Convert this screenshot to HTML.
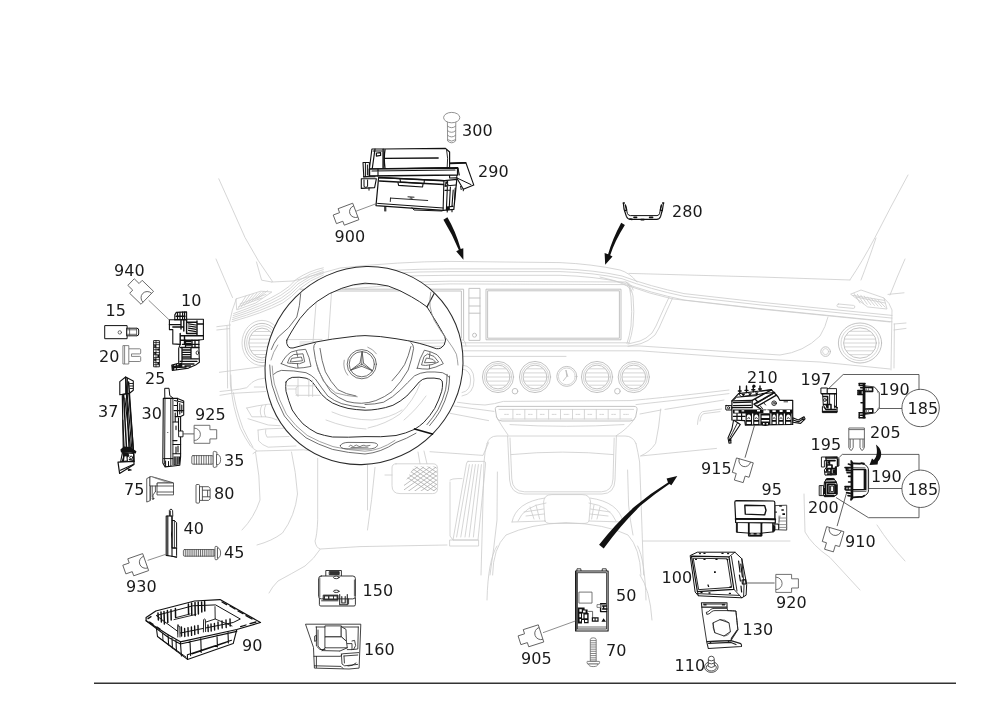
<!DOCTYPE html>
<html lang="en">
<head>
<meta charset="utf-8">
<title>Parts diagram</title>
<style>
html,body{margin:0;padding:0;background:#fff;}
body{width:1000px;height:710px;overflow:hidden;font-family:"DejaVu Sans","Liberation Sans",sans-serif;}
svg{display:block;position:absolute;left:0;top:0;}
.bg{fill:none;stroke:#cbcbcb;stroke-width:0.8;stroke-linecap:round;stroke-linejoin:round;}
.bg2{fill:none;stroke:#bcbcbc;stroke-width:0.9;stroke-linecap:round;stroke-linejoin:round;}
.wh{fill:none;stroke:#2b2b2b;stroke-width:1;stroke-linecap:round;stroke-linejoin:round;}
.wh2{fill:none;stroke:#8a8a8a;stroke-width:0.8;stroke-linecap:round;stroke-linejoin:round;}
.wh3{fill:none;stroke:#4a4a4a;stroke-width:0.8;stroke-linecap:round;stroke-linejoin:round;}
.p{fill:none;stroke:#111;stroke-width:1;stroke-linecap:round;stroke-linejoin:round;}
.pw{fill:#fff;stroke:#111;stroke-width:1;stroke-linecap:round;stroke-linejoin:round;}
.pt{fill:none;stroke:#484848;stroke-width:0.8;stroke-linecap:round;stroke-linejoin:round;}
.ptw{fill:#fff;stroke:#484848;stroke-width:0.8;stroke-linecap:round;stroke-linejoin:round;}
.pb{fill:none;stroke:#000;stroke-width:1.5;stroke-linecap:round;stroke-linejoin:round;}
.k{fill:#111;stroke:none;}
.ld{fill:none;stroke:#454545;stroke-width:0.85;}
.ld2{fill:none;stroke:#6a6a6a;stroke-width:0.75;}
.cn{fill:#fff;stroke:#5a5a5a;stroke-width:0.85;stroke-linejoin:miter;}
.cn2{fill:none;stroke:#5a5a5a;stroke-width:0.85;}
#labels{filter:grayscale(1);}
text{font-family:"DejaVu Sans","Liberation Sans",sans-serif;font-size:16px;fill:#1a1a1a;letter-spacing:0.1px;}
</style>
</head>
<body>
<svg width="1000" height="710" viewBox="0 0 1000 710">
<g id="bg">
<path class="bg" d="M218.8 178.8 Q232 208 245 237.5 Q258 262 272.5 281.5"/>
<path class="bg" d="M216 259 Q224 278 232.5 297.5"/>
<path class="bg" d="M256.5 262 L261.6 280.2 L271.8 282"/>
<path class="bg" d="M908 175 Q890 208 875 237.5 Q862 262 850 279.8"/>
<path class="bg" d="M905 259 Q897 277 890 295"/>
<path class="bg" d="M876 238 Q868 262 861 280"/>
<path class="bg" d="M888 294.4 L904 292.8"/>
<path class="bg" d="M271.8 282 L293 281 Q315 275 340 268 Q400 261.5 450 261.4 L560 262.6 Q592 264 620 270 Q630 273 637 282"/>
<path class="bg" d="M629 273.4 L760 277 L850 280"/>
<path class="bg" d="M330 275 Q390 268.9 450 268.9 L560 268.9 Q595 270 622 276 Q650 286.5 684 293.6 L760 302.2 L892 315.4"/>
<path class="bg" d="M330 277.7 Q390 271.59999999999997 450 271.59999999999997 L560 271.59999999999997 Q595 272.7 622 278.7 Q650 289.2 684 296.3 L760 304.9 L892 318.09999999999997"/>
<path class="bg" d="M330 281.4 Q390 275.29999999999995 450 275.29999999999995 L560 275.29999999999995 Q595 276.4 622 282.4 Q650 292.9 684 300.0 L760 308.59999999999997 L892 321.79999999999995"/>
<path class="bg" d="M340 286 Q395 281.2 450 281.2 L626 282 Q631.6 284 633.2 290"/>
<path class="bg" d="M345 289 Q398 283.9 450 283.9 L624 284.6 Q629.6 286.4 631.2 292"/>
<path class="bg" d="M600 277 Q615 280 626 285 Q650 294 672 298.8 L760 309 L890 322"/>
<path class="bg" d="M232.0 321.6 Q262 313.4 282.7 303.0 Q292.0 297.0 299.6 288.7 Q310 280.0 323.3 275.0"/>
<path class="bg" d="M232.4 319.6 Q262 311.0 282.09999999999997 300.4 Q291.6 294.4 298.8 286.3 Q310 277.6 323.3 273.2"/>
<path class="bg" d="M232.8 317.6 Q262 308.59999999999997 281.5 297.8 Q291.2 291.8 298.0 283.9 Q310 275.2 323.3 271.4"/>
<path class="bg" d="M233.2 315.6 Q262 306.2 280.9 295.2 Q290.8 289.2 297.20000000000005 281.5 Q310 272.8 323.3 269.6"/>
<path class="bg" d="M233.6 313.6 Q262 303.79999999999995 280.3 292.6 Q290.4 286.6 296.40000000000003 279.09999999999997 Q310 270.4 323.3 267.8"/>
<path class="bg" d="M236.3 298.8 L260.8 291.2 L271.8 292 L255.7 303 L237.1 309.8 Z"/>
<path class="bg" d="M238.0 308.6 L246.0 296.0"/>
<path class="bg" d="M241.2 307.0 L249.6 295.1"/>
<path class="bg" d="M244.4 305.40000000000003 L253.2 294.2"/>
<path class="bg" d="M247.6 303.8 L256.8 293.3"/>
<path class="bg" d="M250.8 302.20000000000005 L260.4 292.4"/>
<path class="bg" d="M254.0 300.6 L264.0 291.5"/>
<path class="bg" d="M257.2 299.0 L267.6 290.6"/>
<path class="bg" d="M240 304 L266 294.4 M238.6 306.6 L262 298"/>
<path class="bg" d="M236.3 298.8 Q231.6 310 229.6 322.5 L230.4 385 Q231 391 232 391.4"/>
<path class="bg" d="M227 326 L227.6 388"/>
<path class="bg" d="M216.8 326.7 L230.4 325 M216.8 330 L229.6 328.6 M219.4 372.3 L264 366.4"/>
<path class="bg" d="M851 294 L861 290 L884 298 L887 309 L868 307 Z"/>
<path class="bg" d="M854.0 293.4 L860.0 303.0"/>
<path class="bg" d="M857.4 294.29999999999995 L863.6 303.6"/>
<path class="bg" d="M860.8 295.2 L867.2 304.2"/>
<path class="bg" d="M864.2 296.09999999999997 L870.8 304.8"/>
<path class="bg" d="M867.6 297.0 L874.4 305.4"/>
<path class="bg" d="M871.0 297.9 L878.0 306.0"/>
<path class="bg" d="M874.4 298.79999999999995 L881.6 306.6"/>
<path class="bg" d="M877.8 299.7 L885.2 307.2"/>
<path class="bg" d="M856 297 L885 303 M853 295.4 L884.4 300.4"/>
<path class="bg" d="M884 298 Q890 303 892 310 L891 370 M894.4 324 L894 368 M894 324 L906 323 M894 330 L906 328.4"/>
<path class="bg" d="M838.6 304 L853.6 305.4 Q855 305.6 854.8 307 Q854.6 308.6 853.2 308.4 L838.2 307 Q836.8 306.8 837 305.4 Q837.2 303.8 838.6 304 Z"/>
<path class="bg2" d="M486.4 289.2 L621 289.2 L621 339.8 L486.4 339.8 Z"/>
<path class="bg2" d="M488 290.8 L619.4 290.8 L619.4 338.2 L488 338.2 Z"/>
<path class="bg2" d="M469.3 288.4 L480 288.4 L480 340.4 L469.3 340.4 Z"/>
<path class="bg2" d="M469.3 298 L480 298 M469.3 306 L480 306 M469.3 313.2 L480 313.2"/>
<circle class="bg2" cx="474.5" cy="335.2" r="2"/>
<path class="bg2" d="M300 289.2 L463.6 289.2 L463.6 340"/>
<path class="bg" d="M463.6 340 L300 342"/>
<path class="bg2" d="M302 291 L461.4 291 L461.4 338"/>
<path class="bg" d="M288 339.6 L322 339.4"/>
<path class="bg" d="M317 291 L313 342 M331.6 291 L328 344"/>
<path class="bg" d="M626 282 Q631 286 633 296 Q634.6 312 633 326 Q631.6 336 629 343"/>
<path class="bg" d="M628.6 284 Q629.6 288 631 297 Q632.4 312 631 326 Q629.6 336 627 343.4"/>
<path class="bg" d="M669 297.4 Q664 308 660 317 Q656 327 652 333 Q646 339 640 341 L628 344"/>
<path class="bg" d="M672.4 298.4 Q667 310 663 319 Q659 329 655 335 Q648 341.6 641 343.6 L628 346.4"/>
<path class="bg" d="M300 344 L460 342.8 L629 342.8"/>
<path class="bg" d="M296 348 L460 346 L640 346 L740 352.4 L780 355 Q804 352 820 336 Q825.6 327 828 317"/>
<path class="bg" d="M292 353 L460 350.8 L640 350.8 L740 358 L820 362 L890 369"/>
<path class="bg" d="M290 358 L460 356.4 L566 356.4"/>
<path class="bg" d="M463.6 340 Q466 342 466 346"/>
<ellipse class="bg2" cx="498" cy="377" rx="15.6" ry="15.6"/>
<ellipse class="bg" cx="498" cy="377" rx="13.7" ry="13.7"/>
<ellipse class="bg2" cx="498" cy="377" rx="11.9" ry="11.9"/>
<path class="bg" d="M489.9 368.8 L506.1 368.8 M487.2 372.9 L508.8 372.9 M486.5 377.0 L509.5 377.0 M487.2 381.1 L508.8 381.1 M489.9 385.2 L506.1 385.2 "/>
<ellipse class="bg2" cx="535" cy="377" rx="15.6" ry="15.6"/>
<ellipse class="bg" cx="535" cy="377" rx="13.7" ry="13.7"/>
<ellipse class="bg2" cx="535" cy="377" rx="11.9" ry="11.9"/>
<path class="bg" d="M526.9 368.8 L543.1 368.8 M524.2 372.9 L545.8 372.9 M523.5 377.0 L546.5 377.0 M524.2 381.1 L545.8 381.1 M526.9 385.2 L543.1 385.2 "/>
<ellipse class="bg2" cx="597" cy="377" rx="15.6" ry="15.6"/>
<ellipse class="bg" cx="597" cy="377" rx="13.7" ry="13.7"/>
<ellipse class="bg2" cx="597" cy="377" rx="11.9" ry="11.9"/>
<path class="bg" d="M588.9 368.8 L605.1 368.8 M586.2 372.9 L607.8 372.9 M585.5 377.0 L608.5 377.0 M586.2 381.1 L607.8 381.1 M588.9 385.2 L605.1 385.2 "/>
<ellipse class="bg2" cx="633.8" cy="377" rx="15.6" ry="15.6"/>
<ellipse class="bg" cx="633.8" cy="377" rx="13.7" ry="13.7"/>
<ellipse class="bg2" cx="633.8" cy="377" rx="11.9" ry="11.9"/>
<path class="bg" d="M625.7 368.8 L641.9 368.8 M623.0 372.9 L644.6 372.9 M622.3 377.0 L645.3 377.0 M623.0 381.1 L644.6 381.1 M625.7 385.2 L641.9 385.2 "/>
<ellipse class="bg2" cx="860" cy="343" rx="21.6" ry="20"/>
<ellipse class="bg" cx="860" cy="343" rx="19.0" ry="17.6"/>
<ellipse class="bg2" cx="860" cy="343" rx="16.4" ry="15.2"/>
<path class="bg" d="M850.2 331.3 L869.8 331.3 M846.4 335.2 L873.6 335.2 M844.6 339.1 L875.4 339.1 M844.0 343.0 L876.0 343.0 M844.6 346.9 L875.4 346.9 M846.4 350.8 L873.6 350.8 M850.2 354.7 L869.8 354.7 "/>
<ellipse class="bg2" cx="262" cy="343" rx="17.4" ry="19.6"/>
<ellipse class="bg" cx="262" cy="343" rx="15.3" ry="17.2"/>
<ellipse class="bg2" cx="262" cy="343" rx="13.2" ry="14.9"/>
<path class="bg" d="M254.1 331.5 L269.9 331.5 M251.1 335.4 L272.9 335.4 M249.6 339.2 L274.4 339.2 M249.1 343.0 L274.9 343.0 M249.6 346.8 L274.4 346.8 M251.1 350.6 L272.9 350.6 M254.1 354.5 L269.9 354.5 "/>
<ellipse class="bg" cx="262" cy="343" rx="20" ry="22.6"/>
<circle class="bg2" cx="566.8" cy="376.4" r="10"/><circle class="bg" cx="566.8" cy="376.4" r="8.4"/>
<path class="bg2" d="M566.8 376.4 L566 370.4 M566.8 376.4 L563.4 380.6 M566 370.4 L567.8 376.4"/>
<circle class="bg2" cx="515" cy="391.2" r="2.8"/><circle class="bg2" cx="617.4" cy="391.2" r="2.8"/>
<circle class="bg2" cx="825.6" cy="351.6" r="4.8"/><circle class="bg" cx="825.6" cy="351.6" r="3"/>
<path class="bg" d="M462 365 Q474 366 474 380 Q474 394 462 396 M462 369 Q470.6 370 470.6 380 Q470.6 391 462 392.6"/>
<path class="bg" d="M457.5 402.3 Q472 404.6 485 405 Q495 404 503.3 401.4 L630 400.6 Q660 398 700 393.4 L729 390"/>
<path class="bg" d="M453.8 406 L494 411.4"/>
<path class="bg" d="M636 404.6 Q680 400 729 393.6"/>
<path class="bg" d="M450 413.3 L488.6 420.6 M640 414 L661 410 M665 409.4 L724 400 M430 451.7 L483 455.4 L488.6 442.6"/>
<path class="bg2" d="M498 406.4 L634 406.4 Q637.6 406.4 637 410 L635.6 417 Q634.6 421 630 421 L502 421 Q497.6 421 496.6 417 L495.4 410 Q494.8 406.4 498 406.4 Z"/>
<path class="bg" d="M499 409.4 L633.6 409.4 M500.6 419 L631.6 419"/>
<path class="bg" d="M512.9 409.4 L512.9 419 M524.8 409.4 L524.8 419 M536.7 409.4 L536.7 419 M548.6 409.4 L548.6 419 M560.5 409.4 L560.5 419 M572.5 409.4 L572.5 419 M584.4 409.4 L584.4 419 M596.3 409.4 L596.3 419 M608.2 409.4 L608.2 419 M620.1 409.4 L620.1 419 "/>
<path class="bg" d="M504.6 414.4 L509.4 414.4 M516.5 414.4 L521.3 414.4 M528.4 414.4 L533.2 414.4 M540.3 414.4 L545.1 414.4 M552.2 414.4 L557.0 414.4 M564.1 414.4 L568.9 414.4 M576.0 414.4 L580.8 414.4 M587.9 414.4 L592.7 414.4 M599.8 414.4 L604.6 414.4 M611.7 414.4 L616.5 414.4 M623.6 414.4 L628.4 414.4 " style="stroke-dasharray:1.4 1"/>
<path class="bg" d="M496.4 417 Q503 428 508 435 M635.6 417 Q629 428 616.4 435.6"/>
<path class="bg" d="M510 424.6 Q566 428 624 424.6"/>
<path class="bg" d="M487 443.6 Q489 436 497 436 L625 436 Q633 436 636 443.6"/>
<path class="bg" d="M507.6 436 L509.6 480 Q510.6 493.6 524 494 L602 494 Q614.6 493.6 615 480 L616.4 436"/>
<path class="bg" d="M510 438 L511.8 479 Q512.6 491.4 524.6 491.8 L601.4 491.8 Q612.4 491.4 613 479 L614.2 438"/>
<path class="bg" d="M511 454.6 Q563 449.6 613.4 454.6"/>
<path class="bg" d="M487 443.6 Q484.6 452 484 462 L483 500 Q482 540 481 575"/>
<path class="bg" d="M497.4 472 L497 520 Q494 548 490 575"/>
<path class="bg" d="M636 443.6 Q638 452 639.6 462 L641 500 Q642.4 540 643.6 575"/>
<path class="bg" d="M627.6 470 L628.6 505 Q630 520 633 535"/>
<path class="bg" d="M512 522 Q516 502 545 498 M590 498 Q619 502 623 522"/>
<path class="bg" d="M518 521 Q524 506 546 503 M589 503 Q610 506 616 521"/>
<path class="bg" d="M545 521 L543.6 502 Q544 494.6 552 494.6 L582 494.6 Q590 494.6 590.6 502 L589 521 Q588 523.4 585 523.4 L549 523.4 Q546 523.4 545 521 Z"/>
<path class="bg" d="M512 522 L545 521 M589 521 L623 522 M524 512 L543.6 509 M526 516 L544 514 M590.6 509 L610 512 M590 514 L608 516"/>
<path class="bg" d="M530 507 L534 519 M536 505 L539.6 519 M600 507 L597 519 M594 505 L591.6 519"/>
<path class="bg" d="M492.6 575 Q493 548 506 535 Q530 524 566 522.6 Q606 524 628 535 Q640 548 641 575"/>
<path class="bg" d="M487 600 Q488 560 497 546 M646 600 Q645 560 637.6 546"/>
<path class="bg" d="M660.7 409 Q659 428 655.6 443.4 Q650 452 640.4 456 L716.5 448.4"/>
<path class="bg" d="M697.5 424.4 Q698 414 702.5 411.7 L721.5 409 M700 421 Q700.6 414.6 704 413.6 L720 411.6"/>
<path class="bg" d="M643 541 L790 541"/>
<path class="bg" d="M804 494 L805 532 Q812 545 830 557.5 L860 590"/>
<path class="bg" d="M877 525 Q890 545 905 561"/>
<path class="bg" d="M396 463.8 L433 463.8 Q437.6 463.8 437.6 468.4 L437.6 488.4 Q437.6 493.6 432.6 493.6 L400 493.6 Q392 493.6 392 485.6 L392 468 Q392 463.8 396 463.8 Z"/>
<clipPath id="brk"><path d="M414 466.4 L436.8 466.4 L436.8 491 L404 491 L404 484 Z"/></clipPath>
<path class="bg2" clip-path="url(#brk)" style="stroke:#a4a4a4;stroke-width:0.7" d="M379.6 494 L417.6 467 M383.6 462 L429.6 492 M385.8 494 L423.8 467 M389.8 462 L435.8 492 M392.0 494 L430.0 467 M396.0 462 L442.0 492 M398.2 494 L436.2 467 M402.2 462 L448.2 492 M404.4 494 L442.4 467 M408.4 462 L454.4 492 M410.6 494 L448.6 467 M414.6 462 L460.6 492 M416.8 494 L454.8 467 M420.8 462 L466.8 492 M423.0 494 L461.0 467 M427.0 462 L473.0 492 M429.2 494 L467.2 467 M433.2 462 L479.2 492 M435.4 494 L473.4 467 M439.4 462 L485.4 492 M441.6 494 L479.6 467 M445.6 462 L491.6 492 M447.8 494 L485.8 467 M451.8 462 L497.8 492 "/>
<path class="bg" d="M385 475 L392 475 M418 452 L420 463.8 M424 451 L427 463.8"/>
<path class="bg" d="M468 461.4 L484 461.4 Q486 461.4 485.6 464 L478 540 L453 540 L466.4 464 Q466.8 461.4 468 461.4 Z"/>
<path class="bg" d="M469.4 464.6 L456.6 537"/>
<path class="bg" d="M472.4 464.6 L460.8 537"/>
<path class="bg" d="M475.4 464.6 L465.0 537"/>
<path class="bg" d="M478.4 464.6 L469.20000000000005 537"/>
<path class="bg" d="M481.4 464.6 L473.40000000000003 537"/>
<path class="bg" d="M450 540 L478.6 540 L478.6 546 L450 546 Z"/>
<path class="bg" d="M450 480 Q452 478.6 458 478.6 L462 478.6 M450 482 L450 536 L453 540"/>
<path class="bg" d="M317.7 458.3 L317.7 519.8 Q317 536 315 541 Q316 548 320.4 549 L360 546.6 L447 545"/>
<path class="bg" d="M367.5 465 L367.5 510 M375 467.5 Q372 500 367.5 530"/>
<path class="bg" d="M230.8 375 L231.5 391.5 Q232.4 399 234 406.7 Q236.6 418 240.3 428.2 Q245 438 250.5 446 Q253.6 449 256.8 451"/>
<path class="bg" d="M233.4 392.7 Q234.6 400 236.5 408 Q239.2 418 242.9 428.2 Q247.4 438 253 447.2"/>
<path class="bg" d="M220 391.5 L231.5 390.2 Q240 389.4 246.7 387.7 Q249.6 385 251.8 382.6 Q254.6 380.6 258 379.4 L264.4 378.2"/>
<path class="bg" d="M220 395.3 L231.5 393.4 L265.7 391.5 M254.3 387 L264.4 387"/>
<path class="bg" d="M246.7 408 Q257 405.6 268.2 404.2 Q274 404 278 406 M246.7 408 L251.8 416.8 L265.7 416.8 Q272 417.4 277 420"/>
<path class="bg" d="M262 405.2 Q258.6 411 261.6 416.8 M266 404.6 Q262.6 411 265.6 416.8"/>
<path class="bg" d="M248 418.7 L268.2 425 L280 425.7"/>
<path class="bg" d="M258 430.1 L265.7 428.9 L284 428.2 M265.7 429.5 Q264.6 433.6 267 437.1 L289 436.5"/>
<path class="bg" d="M258 430.1 L258.7 440.9 Q262 445 268.2 447.2 L296 446"/>
<path class="bg" d="M253 453.6 L256.8 451 L303.7 449.8 L318 452"/>
<path class="bg" d="M255.5 452 Q260 476 260 500 Q254 518 242 530"/>
<path class="bg" d="M291.5 452 Q296 472 297.5 494 Q295 516 282.5 533 Q272 541 257 545"/>
<path class="bg" d="M320 549.5 Q314 559 305 566 Q291 574 278 581 Q272 587 269 593"/>
<path class="bg" d="M640 575 Q650 590 652 620"/>
</g>
<g id="wheel">
<path d="M435.56 294.04 A101.2 96.8 -45 1 0 292.44 437.16 A101.2 96.8 -45 1 0 435.56 294.04 Z M286.8 340.2 Q290.6 332.5 300 318.5 Q308 308 317 301.5 Q329 292.6 341.8 288.3 Q353 284 365 283.2 Q377 283.6 388.2 286 Q400 290 411.5 296.8 Q420 301.6 427 306.9 Q430 311.6 433.2 317 Q438 324.6 442.5 332.5 Q445.4 336.4 445.6 340.2 Q445 346 440.9 348 Q438.6 349 436.3 348.7 Q428 345.6 419.2 343.3 Q408 340.4 396 338.7 Q380 336 365 335.6 Q356 335.8 348 337.1 Q332 338.8 317 341.8 Q305 344.6 293 348 Q289.6 348.6 288 346.4 Q286 343.6 286.8 340.2 Z M286 382 Q287.6 378.4 292.2 377.4 Q299 376.6 306.1 378.2 Q310 379.4 312.3 382 Q317 388 321.6 394.4 Q326.4 399.6 332.5 403 Q340 406.6 348 408.4 Q356 409.8 365 410.2 Q371 410.2 377.4 409.2 Q385.6 408 392.9 405.3 Q400.4 401.6 406.8 396 Q413.4 389 419.2 382 Q422.4 378.6 427 378.2 Q434.6 377.6 440 379 Q443 380.4 442.5 384 Q442.6 387.6 441.7 391.3 Q439 400 434.7 408.4 Q430 416 423.9 422.3 Q419.6 426.2 414.6 429.3 Q406 433.4 396 435.5 Q381 437.4 365 436.6 Q348 437.6 332.5 437 Q324 435.6 317 433.2 Q309.6 429.4 303 423.9 Q297 417.6 292.2 410 Q288.4 400.6 286 391.3 Q285.4 386.6 286 382 Z" fill="#fff" fill-rule="evenodd" stroke="none"/>
<path class="wh" d="M435.56 294.04 A101.2 96.8 -45 1 0 292.44 437.16 A101.2 96.8 -45 1 0 435.56 294.04 Z" style="stroke-width:1.05"/>
<path class="wh" d="M286.8 340.2 Q290.6 332.5 300 318.5 Q308 308 317 301.5 Q329 292.6 341.8 288.3 Q353 284 365 283.2 Q377 283.6 388.2 286 Q400 290 411.5 296.8 Q420 301.6 427 306.9 Q430 311.6 433.2 317 Q438 324.6 442.5 332.5 Q445.4 336.4 445.6 340.2 Q445 346 440.9 348 Q438.6 349 436.3 348.7 Q428 345.6 419.2 343.3 Q408 340.4 396 338.7 Q380 336 365 335.6 Q356 335.8 348 337.1 Q332 338.8 317 341.8 Q305 344.6 293 348 Q289.6 348.6 288 346.4 Q286 343.6 286.8 340.2 Z" style="stroke-width:1"/>
<path class="wh" d="M286 382 Q287.6 378.4 292.2 377.4 Q299 376.6 306.1 378.2 Q310 379.4 312.3 382 Q317 388 321.6 394.4 Q326.4 399.6 332.5 403 Q340 406.6 348 408.4 Q356 409.8 365 410.2 Q371 410.2 377.4 409.2 Q385.6 408 392.9 405.3 Q400.4 401.6 406.8 396 Q413.4 389 419.2 382 Q422.4 378.6 427 378.2 Q434.6 377.6 440 379 Q443 380.4 442.5 384 Q442.6 387.6 441.7 391.3 Q439 400 434.7 408.4 Q430 416 423.9 422.3 Q419.6 426.2 414.6 429.3 Q406 433.4 396 435.5 Q381 437.4 365 436.6 Q348 437.6 332.5 437 Q324 435.6 317 433.2 Q309.6 429.4 303 423.9 Q297 417.6 292.2 410 Q288.4 400.6 286 391.3 Q285.4 386.6 286 382 Z" style="stroke-width:1"/>
<path class="wh" style="stroke-width:1.2" d="M427 306.9 L434 293.7"/>
<path class="wh" style="stroke-width:1.8;stroke:#111" d="M414.6 429 L432.4 434"/>
<path class="wh3" d="M300.7 293.7 Q300 306 296.8 317 Q290 328 278.2 337.1 Q273.6 343 271.3 349.5"/>
<path class="wh2" d="M430.8 292.2 Q429.4 300 430 306 Q431.4 313.6 434 320 Q440.6 331.6 448.7 341.8 Q453.4 348 456.4 354.2 Q457.6 359.6 458 365"/>
<path class="wh2" d="M277.8 345 Q273 352 271 360"/>
<path class="wh3" d="M269.7 365 Q270 375 272 385 Q276.6 401.6 284.4 416 Q293.6 428.6 306 437.8 Q318 444.6 332.5 449.4 Q348 453 365 454 Q381 452.6 396 442.5 Q407 438.6 416 433.2"/>
<path class="wh2" d="M272.2 366 Q272.6 375 274.4 384 Q279 400.4 286.4 414.2 Q295.2 426.4 307.2 435.4 Q319 442 333 446.6 Q348 450.2 365 451.2 Q380 450.6 395 440.4"/>
<path class="wh3" d="M447.1 374.3 Q447 382 445.6 389.8 Q443 400 437.8 409.9 Q433 417.6 427 424.6 M449.6 376 Q449.6 383 448.2 390.6 Q445.4 401 440.2 411 Q435.6 418.6 429.6 425.6"/>
<path class="wh3" d="M273.6 374.3 Q276.6 371.4 281.3 370.4 Q294 370.4 306 372.7 Q311.6 375 315.4 379 Q321.6 388 327.8 396 Q334 401 341.8 403.7 Q352 406.6 365 407.6"/>
<path class="wh3" d="M365 404.5 Q375 404.4 383.6 402.2 Q393 397.4 400.6 389.8 Q407.6 382.6 414.6 375.8 Q420 372.6 427 372 Q435 371.6 442.5 372.7 Q446.6 374.4 449.4 377.4"/>
<path class="wh3" d="M315.5 343 Q313.4 345 313.7 348.4 Q315 360 318.2 370 Q323.6 382 330.8 391.6 Q338 398 347 401.5 Q354 403.2 361.4 403.3 Q369 403 375.8 400.6 Q385 397 392 391.6 Q401.6 381.6 408.2 370 Q412 359 413.6 348.4 Q413.6 344.6 411 342.6"/>
<path class="wh3" d="M320 348.4 Q321.6 361 325.4 371.8 Q330.6 382 338 389.8 Q346 394.4 356 396"/>
<path class="wh3" d="M410.9 346.6 Q408.6 356 404.6 364.6 Q399 373.4 392 380.8"/>
<path class="wh2" d="M317 365 Q319.6 373 323 380.5 Q328.6 387.6 335.6 392.9 Q346 396 357.3 396.8"/>
<circle class="wh3" cx="361.8" cy="364.2" r="14.6"/><circle class="wh3" cx="361.8" cy="364.2" r="12.6"/>
<path class="wh2" d="M344.2 360.2 A18 18 0 0 0 347.8 375.2 M367.8 347.2 A18 18 0 0 1 376.40000000000003 353.8"/>
<path class="wh3" d="M360.0 363.1 L362.1 351.6 L363.6 363.2 M361.8 364.2 L362.1 351.6 M363.6 363.2 L372.5 370.8 L361.7 366.3 M361.8 364.2 L372.5 370.8 M361.7 366.3 L350.7 370.2 L360.0 363.1 M361.8 364.2 L350.7 370.2 "/>
<path class="wh3" d="M281.3 363.7 Q285 356 291.2 352 Q298 349.6 305.6 349.3 Q309.6 357 311 366.4 Q304 368 296.6 368.2 Q288 367 281.3 363.7 Z"/>
<path class="wh3" d="M287.6 362.6 L289.6 357.6 L293.6 354.6 L303 353.8 L304.7 361.8 L299.6 363.7 L292 363.4 Z M290.4 361.6 L291.6 358.4 L301.4 357 L302.4 360.4 Z M296.6 351.6 L297.6 356.4 M297.4 363.6 L298 367.6"/>
<path class="wh3" d="M417.2 368.2 Q419.6 358 424.4 350.2 Q431 351.4 437 354.7 Q441 358.6 443.3 363.7 Q436 367.6 428 369.1 Q422 369.2 417.2 368.2 Z"/>
<path class="wh3" d="M421.6 364.6 L424 356.6 L427.6 354 L434 356.4 L438.6 362 L432 364.6 L426 365.4 Z M424.6 362.4 L426.4 358 L433 359.4 L435.4 362 Z M430 352.4 L429.4 357.6 M429.6 365 L429.4 368.8"/>
<path class="wh3" d="M340.4 445.4 Q342 442.6 348 442.4 L372 442.6 Q378.6 443 377.4 445.8 Q375.4 448.8 369 449 L346 448.8 Q339.6 448.4 340.4 445.4 Z"/>
<path class="wh3" style="stroke-width:0.7" d="M349 446.6 Q350.6 443.6 352 446 Q353.4 447.6 355 445.6 Q356.6 444.4 358 446 Q360 447.4 362 445.6 Q364 444.6 366 446 L370 445.4 M351 447.6 L368 447.2"/>
<path class="bg" d="M287 385.8 L316 385.8 M288 389 L296 389 M296 395.3 L320 395.3 M298 378.8 L298 396.5 M308.8 378.8 L308.8 396.5 M312.6 380 L312.6 396.5 M298 386.4 Q296 386.4 296 388.4 L296 393.4 Q296 395.3 298 395.3"/>
<path class="bg" d="M420 384 Q414 400 400 414 Q386 424 368 428 M426 396 Q416 410 404 420"/>
<path class="bg" d="M332 412 Q350 420 372 420 Q390 418 402 410 M326 420 Q346 428 366 429"/>
</g>
<g id="parts_left">
<path class="ld2" d="M148.7 300.3 L169.4 320.1"/>
<g transform="translate(141.6 292.3) rotate(44)"><path class="cn" d="M7.9 -9.0 L-7.9 -9.0 L-7.9 -4.6 L-14.7 -4.6 L-14.7 4.6 L-7.9 4.6 L-7.9 9.0 L7.9 9.0 Z"/><path class="cn2" d="M7.9 -6.2 A6.3 6.2 0 0 0 7.9 6.2"/></g>
<rect class="pw" x="105.1" y="325.6" width="22" height="13.1"/>
<circle class="pt" cx="119.8" cy="332.4" r="1.7"/>
<path class="pw" d="M127.1 328.2 L136.6 328.2 Q138.7 328.2 138.7 330 L138.7 334 Q138.7 335.8 136.6 335.8 L127.1 335.8 Z"/>
<path class="pt" d="M127.1 329.8 L136.5 329.8 M127.1 334.3 L136.5 334.3 M129.6 328.2 L129.6 335.8 M136.6 328.2 L136.6 335.8"/>
<g stroke="#666" stroke-width="0.8" fill="#fff" stroke-linejoin="round">
<path d="M122.9 345.6 L128.8 345.6 L128.8 348.8 L139.8 348.8 Q140.7 348.8 140.7 349.8 L140.7 353 Q140.7 353.9 139.8 353.9 L131.5 353.9 L131.5 356.4 L139.8 356.4 Q140.7 356.4 140.7 357.4 L140.7 360.6 Q140.7 361.5 139.8 361.5 L128.8 361.5 L128.8 364 L122.9 364 Z"/>
<path fill="none" d="M124.6 345.6 L124.6 364 M128.8 348.8 L128.8 361.5"/>
</g>
<rect class="pw" x="154" y="340.6" width="5.4" height="26.2" style="stroke-width:0.9"/>
<path class="p" d="M154 342.6 L159.4 342.6 M154 344.7 L159.4 344.7 M154 347.6 L159.4 347.6 M154 349.7 L159.4 349.7 M154 352.6 L159.4 352.6 M154 354.7 L159.4 354.7 M154 357.6 L159.4 357.6 M154 359.7 L159.4 359.7 M154 362.6 L159.4 362.6 M154 364.7 L159.4 364.7  M156 340.6 L156 366.8" style="stroke-width:0.8"/>
<path class="k" d="M154.3 345 h1.6 v2.4 h-1.6z M154.3 352 h1.6 v2.4 h-1.6z M154.3 358.6 h1.6 v2.6 h-1.6z M157.4 348.4 h1.6 v2.2 h-1.6z M157.4 355 h1.6 v2.4 h-1.6z M157.4 362 h1.6 v2.4 h-1.6z"/>
<path class="pw" d="M169.4 319.8 L174.8 319.8 L174.8 314.9 L176.3 312.4 L186.6 311.9 L186.6 319.3 L203.4 319.3 L203.4 339.5 L198.9 340 L198.9 347.4 L199.4 362.2 L195.5 365.1 L188.6 368.1 L172.3 370.5 L171.8 365.1 L178.7 363.2 L178.7 348.4 L180.2 344.4 L172.8 343.9 L172.8 329.6 L169.4 329.6 Z" style="stroke-width:1.1"/>
<path class="p" d="M169.4 324.6 L181 324.6 M172.8 327 L183 327 M174.8 319.8 L186.6 319.8 M176 316.2 L185 316.2 M181 319.8 L181 329 M183.8 319.8 L183.8 331 M186.6 319.3 L186.6 333.5 M186.6 322.3 L197 322.3 M186.6 333.5 L197 333.5 M197 321 L197 334.5 M197 324 L203.4 324 M180.2 335.8 L203.4 335.8 M180.2 333.5 L180.2 344.4 M184.5 335.8 L184.5 344 M180.2 340.2 L198.9 340.2 M182.5 344.4 L198.9 344.4" style="stroke-width:1.4"/>
<path class="p" d="M188.5 323.8 L196 325 M188.5 326 L196 327.2 M188.5 328.2 L196 329.4 M188.5 330.4 L196 331.6" style="stroke-width:1.2"/>
<path class="p" d="M180.5 347.5 L198.9 347.5 M182 347.5 L182 362 M185.5 340.2 L185.5 347.5 M192 340.2 L192 347.5 M195 340.5 L195 347.2 M183 350 L191 350 M183 352.3 L191 352.3 M183 354.6 L191 354.6 M183 357 L191 357 M191 348.5 L191 358.6 M183 358.8 L198.5 358.8 M180 361.3 L197 361.3 M180.5 364 L194 364 M185 366 L190.5 366 M174 366.3 L181 365.5 M176.5 364.5 L176.5 369.4 M173 367.6 L186 367" style="stroke-width:1.3"/>
<path class="p" d="M186 341.5 L191 341.5 M186 343.3 L191 343.3 M186 345.2 L191 345.2 M177.5 312.5 L177.5 319 M180 312.3 L180 319 M182.6 312.2 L182.6 319 M184.6 312.2 L184.6 319" style="stroke-width:1.2"/>
<ellipse class="pw" cx="197.4" cy="352.8" rx="1.3" ry="1.8" style="stroke-width:0.8"/>
<path class="k" d="M178.2 363.4 L182 362.6 L182.4 366.8 L178.6 367.4 Z M171.9 365.4 L174 365 L174.4 369.8 L172.3 370.2Z"/>
<path class="pw" d="M119.8 381.6 L125.6 377 L133.3 380.9 L133.3 390.2 L129.5 393.3 L119.8 394.8 Z" style="stroke-width:1.1"/>
<path class="p" d="M125.6 377 L125.6 393.8 M127.5 378.2 L127.5 393.6 M129.6 383.5 L132.8 383.5 M129.6 386 L132.8 386 M130 388.5 L132.8 388.5" style="stroke-width:0.9"/>
<path class="pw" d="M122.3 394.6 L129 393.4 L133.5 450.6 L123.3 449.5 Z" style="stroke-width:1.2"/>
<path class="p" d="M125.8 377.5 L129.2 449.6 M123.6 395 L126.6 449.8 M128.6 382 L133.2 449.8" style="stroke-width:1.5"/>
<path class="p" d="M124.8 398 L130.6 449.5 M127.2 394 L131.8 449 M122.8 420 L124.2 449" style="stroke-width:1.1"/>
<path class="pw" d="M122.4 452.6 L133.8 453.4 L134 461.4 L120.6 462 Z" style="stroke-width:1.1"/>
<path class="k" d="M120.4 449.6 L124 446.4 L130 447 L136.4 451.2 L135.8 453.6 L130 452.6 L121 452.4 Z"/>
<path class="k" d="M122.4 452.6 L128.4 453 L129.4 456 L127.6 457.6 L128 461.6 L121.4 462 L123 457 Z"/>
<path fill="#fff" d="M124.6 456.6 L126.4 456.2 L126.8 460.4 L124 460.8 Z"/>
<circle class="pw" cx="131.2" cy="457.6" r="1.5" style="stroke-width:1"/>
<path class="p" d="M133.6 453.6 L134 461.4 M129.4 459.6 L133.8 460.4" style="stroke-width:1.3"/>
<path class="pw" d="M118 462.2 L134 461.4 L134 464.6 L119.6 473.4 Z" style="stroke-width:1.2"/>
<path class="p" d="M120.4 470.2 L133.2 464.4 M127 468.6 L131.2 470 L128.4 470.4" style="stroke-width:1.1"/>
<path class="pw" d="M165.1 388.3 L169 388.3 L169.8 395.6 L172.9 397.9 L172.9 398.4 L165.2 398.4 Z" style="stroke-width:1"/>
<path class="pw" d="M163.3 398.4 L177.5 398.4 L183.7 401 L183.7 415 L180.6 416.5 L180.6 456.8 L179.8 465.3 L165.1 466.9 L162.8 463 Z" style="stroke-width:1.1"/>
<path class="p" d="M172.9 398.4 L172.9 464.6 M165 398.6 L164.6 464 M170.8 398.4 L170.8 465.6" style="stroke-width:0.9"/>
<path class="p" d="M174.5 400.5 L183.5 402.5 M177.5 398.4 L177.5 416 M174 405.5 L177.5 405.5 M174 410.6 L183.6 410.6 M179.8 403.5 L179.8 414 M181.8 405 L181.8 412.6 M175 416.6 L180.6 416.6 M175.2 413 L175.2 422 M173 422 L178.5 422 M178.5 418 L178.5 430.5 M176 426 L176 429.6 M173 444.5 L180.6 444.5 M176 447 L176 453.6 M178 446 L178 452 M173 453.8 L180.6 453.8 M173 440.6 L177 440.6" style="stroke-width:1.1"/>
<rect class="pw" x="179" y="431" width="4" height="5.8" style="stroke-width:0.9"/>
<path class="k" d="M173.6 456.4 L180.4 456.4 L179.7 464.4 L173.6 464.9 Z"/>
<path class="p" d="M175 457 L175 464 M176.6 457 L176.6 464 M178.2 457 L178.2 464" style="stroke-width:0.5;stroke:#fff"/>
<circle class="k" cx="167.8" cy="432.5" r="0.5"/>
<path class="p" d="M163.6 458.6 L172.9 458.6 M165.6 461 L165.6 466.5 M168.5 461.5 L168.5 466.4" style="stroke-width:1"/>
<path class="ld" d="M183 433.9 L194 433.9"/>
<g transform="translate(202 434.3) rotate(180)"><path class="cn" d="M7.9 -9.0 L-7.9 -9.0 L-7.9 -4.6 L-14.7 -4.6 L-14.7 4.6 L-7.9 4.6 L-7.9 9.0 L7.9 9.0 Z"/><path class="cn2" d="M7.9 -6.2 A6.3 6.2 0 0 0 7.9 6.2"/></g>
<rect class="ptw" x="191.8" y="455.6" width="21.399999999999977" height="8.599999999999966" rx="1.2"/><path class="pt" d="M194.2 455.6 L194.2 464.2 M196.6 455.6 L196.6 464.2 M199.0 455.6 L199.0 464.2 M201.4 455.6 L201.4 464.2 M203.8 455.6 L203.8 464.2 M206.2 455.6 L206.2 464.2 M208.6 455.6 L208.6 464.2 M211.0 455.6 L211.0 464.2 "/><path class="ptw" d="M213.2 452.3 Q213.2 451.3 214.2 451.3 L216.9 452.1 L216.9 466.7 L214.2 467.5 Q213.2 467.5 213.2 466.5 Z"/><path class="ptw" d="M216.9 454.4 Q220.6 454.4 220.6 459.6 Q220.6 464.8 216.9 464.8 Z"/>
<g stroke="#333" stroke-width="0.8" fill="#fff" stroke-linejoin="round" stroke-linecap="round">
<path d="M147.1 478.4 L150.2 476.8 L150.2 500.6 L147.1 501.9 Z"/>
<path d="M150.2 476.8 L151.6 476.6 L172.6 482.6 L173.4 483 L157.4 483 L157.4 486 L150.2 486 Z"/>
<path fill="none" d="M153 477.2 L168 482.8 M155 477.6 L171 482.8" stroke="#777" stroke-width="0.6"/>
<rect x="157.4" y="483" width="16.1" height="11.9"/>
<path fill="none" d="M157.4 486 L173.5 486 M157.4 492 L173.5 492 M150.2 486 L150.2 500 M152.2 486 L152.2 497 M155.4 486 L155.4 491.6 M155.4 491.6 L153 495 L153 499.4"/>
<circle cx="153" cy="498.6" r="0.8"/>
</g>
<g stroke="#333" stroke-width="0.8" fill="#fff" stroke-linejoin="round">
<path d="M196 485.2 Q196 484.5 197 484.5 L198.6 484.5 Q199.5 484.5 199.5 485.4 L199.5 502.2 Q199.5 503.1 198.6 503.1 L197 503.1 Q196 503.1 196 502.2 Z"/>
<path d="M199.5 486.7 L208.6 486.7 L210.1 488.4 L210.1 498.8 L208.6 500.4 L199.5 500.4 Z"/>
<path fill="none" d="M202.4 486.7 L202.4 500.4 M202.4 490.2 L210.1 490.2 M202.4 496.8 L210.1 496.8 M207.6 490.2 L207.6 496.8"/>
</g>
<path class="pw" d="M169.4 516 L169.4 510.4 Q170 509.2 171 509.2 Q172.2 509.4 172.6 510.6 L172.8 516" style="stroke-width:0.9"/>
<path class="pw" d="M172 520.5 L174.4 520.5 L176.6 522.8 L176.6 557.1 L172 556.2 Z" style="stroke-width:1"/>
<path class="pw" d="M166.2 516 L172 516 L172 548 L176.6 548 M166.2 516 L166.2 555.4 L172 556.2 L176.6 557.1" style="stroke-width:1.1"/>
<path class="p" d="M172 516 L172 556.2 M172.2 548 L176.6 548 M167.8 516 L167.8 555.4" style="stroke-width:1.1"/>
<path class="p" d="M170.4 511 L170.4 516 M174.4 520.5 L174.4 548" style="stroke-width:0.8"/>
<rect class="ptw" x="183.4" y="549.5" width="31.599999999999994" height="6.7000000000000455" rx="1.2"/><path class="pt" d="M185.3 549.5 L185.3 556.2 M187.2 549.5 L187.2 556.2 M189.1 549.5 L189.1 556.2 M191.0 549.5 L191.0 556.2 M192.9 549.5 L192.9 556.2 M194.8 549.5 L194.8 556.2 M196.7 549.5 L196.7 556.2 M198.6 549.5 L198.6 556.2 M200.5 549.5 L200.5 556.2 M202.4 549.5 L202.4 556.2 M204.3 549.5 L204.3 556.2 M206.2 549.5 L206.2 556.2 M208.1 549.5 L208.1 556.2 M210.0 549.5 L210.0 556.2 M211.9 549.5 L211.9 556.2 M213.8 549.5 L213.8 556.2 "/><path class="ptw" d="M215 547.2 Q215 546.2 216 546.2 L217.8 547.0 L217.8 559.1 L216 559.9 Q215 559.9 215 558.9 Z"/><path class="ptw" d="M217.8 548 Q220.6 548 220.6 553.0 Q220.6 558 217.8 558 Z"/>
<path class="ld2" d="M147.6 560.4 L165.8 554.3"/>
<g transform="translate(138.2 564.7) rotate(-19.3)"><path class="cn" d="M7.9 -9.0 L-7.9 -9.0 L-7.9 -4.6 L-14.7 -4.6 L-14.7 4.6 L-7.9 4.6 L-7.9 9.0 L7.9 9.0 Z"/><path class="cn2" d="M7.9 -6.2 A6.3 6.2 0 0 0 7.9 6.2"/></g>
</g>
<g id="parts_top">
<g stroke="#777" stroke-width="0.8" fill="#fff" stroke-linejoin="round">
<path d="M447.4 121.5 L447.6 141 Q451.6 144.6 455.6 141 L455.8 121.5 Z"/>
<path fill="none" d="M447.4 126 Q451.6 129.4 455.8 126 M447.5 130.6 Q451.6 134 455.7 130.6 M447.5 135.2 Q451.6 138.6 455.7 135.2 M447.6 139.6 Q451.6 142.6 455.6 139.6"/>
<ellipse cx="451.7" cy="117.6" rx="8.1" ry="5.2"/>
</g>
<path class="ld2" d="M355.8 211.3 L375.6 203.9"/>
<g transform="translate(348.5 214.2) rotate(-20.6)"><path class="cn" d="M7.8 -8.8 L-7.8 -8.8 L-7.8 -4.6 L-14.6 -4.6 L-14.6 4.6 L-7.8 4.6 L-7.8 8.8 L7.8 8.8 Z"/><path class="cn2" d="M7.8 -6.000000000000001 A6.3 6.000000000000001 0 0 0 7.8 6.000000000000001"/></g>
<path class="pw" d="M371.9 149 L383.2 149 L383.2 169 L369.4 169 Z" style="stroke-width:1.1"/>
<path class="p" d="M373.2 151 L382 151 M376.4 153 L380.6 152.6 L380.6 155.4 L376.4 156.2 Z M375 149 L372.2 169" style="stroke-width:1.2"/>
<path class="pw" d="M383.2 149 L445.5 148.4 L449.6 152 L449.6 167.6 L383.2 169 Z" style="stroke-width:1.2"/>
<path class="p" d="M384.8 158.3 L438.2 158 M385 149.6 Q383.6 158 385 168.6" style="stroke-width:1.3"/>
<path class="p" d="M446.6 149.6 Q448.4 158 447.2 167.6" style="stroke-width:0.9"/>
<path class="pw" d="M363 162.5 L369.4 162.5 L369.4 176.2 L363.8 177 Z" style="stroke-width:1.1"/>
<path class="p" d="M365.4 163 L365.4 176.6 M367.4 165 L367.4 175" style="stroke-width:1"/>
<path class="pw" d="M449.6 163.3 L465.8 162.5 L473.8 185.1 L463.3 189.2 L456.8 177.9 L449.6 178 Z" style="stroke-width:1.1"/>
<path class="p" d="M456.8 168.1 L456.8 177.9 M456.8 177.9 L471 184.6 M460.6 186.4 L461.2 189.6 M463.3 189.2 L463.3 190.8 M458 168.4 L459.4 175" style="stroke-width:1"/>
<path class="p" d="M450 163.4 L465.4 162.8" style="stroke-width:1.7"/>
<path class="pw" d="M369.4 169 L457.7 167.9 L457.7 175 L369.4 176 Z" style="stroke-width:1.6"/>
<path class="p" d="M372 171 L455 170 M378 169 L378 176" style="stroke-width:1.1"/>
<path class="pw" d="M361.3 178.7 L376.4 178.7 L374.6 187.6 L361.3 188.4 Z" style="stroke-width:1.1"/>
<path class="p" d="M364 180 L364 186.6 Q366 188.4 367.6 186.4 L367.6 180 M369 188 L369 190.2 M363.4 176.8 L375 176.8" style="stroke-width:1"/>
<path class="pw" d="M378.6 177.6 L444.6 180.6 L456.8 179.4 L453.8 209.4 L443.2 210.4 L376 205.6 Z" style="stroke-width:1.2"/>
<path class="p" d="M379.6 181 L443.6 184.6 M379 177.6 L443.8 180.8" style="stroke-width:1.5"/>
<path class="p" d="M443.9 181 L443.1 210.2 M400 179 L400.6 182 L424 183.6 L424.4 180 M398 182.6 L398.6 185.4 L422.6 187 L423 183.8" style="stroke-width:1.1"/>
<path class="p" d="M390.5 198.1 L427.7 200.5 M390.5 198.1 L390.3 201.5 M408 196.8 L414 197.2" style="stroke-width:0.9"/>
<circle class="pt" cx="411" cy="198.2" r="0.9"/>
<path class="p" d="M377.6 203.4 L443.2 208 M412 207.6 L414 210 L442 211 M384.8 206.4 L384.8 211 M385.8 206.4 L385.8 211" style="stroke-width:1"/>
<path class="p" d="M447.6 181.4 L446.4 209.6 M450.4 187 L449.2 208.6 M453.2 190 L452 206 M444.6 186 L456 185 M445 190.4 L450.4 190 M446.8 207 L453 206.4 M447.4 209.6 L447.2 212 M452 209.4 L452 211.8 M455.2 188 L454.6 200" style="stroke-width:1.1"/>
<path class="k" d="M445.4 181.4 L447.8 181.2 L447.4 186.6 L445 186.8 Z M446.2 206.8 L449.6 206.6 L449.4 210 L446 210.2Z"/>
<circle class="pw" cx="446.8" cy="184.4" r="1" style="stroke-width:0.8"/>
<path class="p" d="M623.4 203.4 L624 209 L626.4 216.4 Q627.6 219.4 630.6 219.4 L656.6 219.4 Q659.6 219.4 660.6 216.4 L662.6 209 L663.4 203.4" style="stroke-width:1.2"/>
<path class="p" d="M625.6 206 L627.4 213.4 Q628.2 215.6 630.4 215.6 L657 215.6 Q659 215.6 659.6 213.4 L661.2 206" style="stroke-width:1"/>
<path class="p" d="M625.4 205 L626.6 209.4 M661.4 205 L660.4 209.4 M623.2 203 L624.4 203 M662.6 203 L663.8 203 M624.6 210.6 L626.8 210 M660.2 210 L662.4 210.6" style="stroke-width:1.3"/>
<path class="p" d="M634 217.4 L636.6 217.4 M649.6 217.4 L652.6 217.4 M641 219.6 L644 219.6 M630 219 L632 219.4" style="stroke-width:1.6"/>
</g>
<g id="parts_bottom">
<path class="pw" d="M156.1 626 L157.5 636.5 L187.5 659.4 L233.2 643.6 L236.8 629.5 Z" style="stroke-width:1.1"/>
<path class="pw" d="M146.1 617.5 L155.8 611 L194.5 601 L220 599.6 L260.5 622.5 L236.8 629.5 L180.4 641.8 L168.1 634.8 L146.1 620.7 Z" style="stroke-width:1.2"/>
<path class="pw" d="M156.6 615.4 L192.8 605.8 L215.6 604.9 L240.3 619 L233.2 622.5 L180.4 633 Z" style="stroke-width:1"/>
<path class="p" d="M146.1 620.7 L168.1 637.2 L180.4 644 L236.8 631.4 M180.4 641.8 L181.4 656 M187.5 659.4 L187.4 654.8 L231.5 640.2 M168.1 634.8 L168.6 645 M172 638 L172.4 648 M176 640 L176.4 651 M190 641 L190.6 655.6 M200.8 638.6 L201.2 652.4 M217 635 L217.4 647 M228 632.6 L228.4 643 M192 654 L226 642.6" style="stroke-width:1.1"/>
<path class="p" d="M158 613 L158.4 620 M161 612 L161.4 622 M164 611.6 L164.4 624 M167.4 610.6 L167.8 622.6 M171 609.8 L171.2 620 M175.4 608.6 L175.6 617.6 M188.4 604 L188.6 614 M191.6 603 L191.8 615 M195 602.6 L195.2 615.4 M198.2 602 L198.4 614 M201.6 602 L201.8 612 M204.6 601.6 L204.8 611" style="stroke-width:1.5"/>
<path class="p" d="M178 625 L178.2 634 M181.4 627 L181.6 636 M184.6 628.4 L184.8 636.6 M188 627.6 L188.2 636 M191.4 627 L191.6 635.4 M194.6 626 L194.8 634.6 M198 625.4 L198.2 633.6 M208 625 L208.2 631.6 M211 624 L211.2 631 M214.4 623.4 L214.6 630 M218 622 L218.2 629 M222 621 L222.2 628 M226 620 L226.2 627.6 M230 619 L230.2 626" style="stroke-width:1.4"/>
<path class="pw" d="M203.4 632 L203.6 619.6 Q204.4 618.4 205.4 619.6 L205.6 631.6" style="stroke-width:0.9"/>
<path class="pw" d="M177.8 637 L178 626.6 Q178.8 625.4 179.8 626.6 L180 637" style="stroke-width:0.9"/>
<path class="p" d="M215 606.6 L215.2 619 L232 626 M215.2 619 L206 622 M174 619.6 L196 614.4 M176 617.6 L190 614" style="stroke-width:0.9"/>
<path class="p" d="M222 602 L226.6 604.6 M230 606 L235 609 M238 611 L243 613.6 M246 615.6 L252 619 M240.6 626.6 L246 625 M250 623.6 L256 622 M148 618.6 L151 616.6 M149.6 622 L153 624.4 M157 627 L160 629" style="stroke-width:1.3"/>
<path class="p" d="M160 638.4 L186 657 M162.6 633.6 L163 640.6" style="stroke-width:0.9"/>
<g stroke="#222" stroke-width="0.9" fill="#fff" stroke-linejoin="round" stroke-linecap="round">
<rect x="326.2" y="570.5" width="15.2" height="6" />
<rect x="329.6" y="571.6" width="9.6" height="3" fill="#333"/>
<path d="M319.4 598 L319.4 604.6 Q319.4 606 320.8 606 L354 606 Q355.4 606 355.4 604.6 L355.4 598 Z"/>
<rect x="318.6" y="576" width="36.8" height="22.9" rx="2.6"/>
<path fill="none" d="M319.8 578 L319.8 597 M354.4 580 L354.4 596" stroke-width="0.7"/>
<ellipse cx="336.3" cy="577.4" rx="2.8" ry="1.3"/>
<ellipse cx="336.3" cy="591.3" rx="2.8" ry="1.2"/>
<rect x="323.6" y="595.1" width="14.4" height="4.6" fill="#333"/>
<path d="M325 596.4 h3 v2 h-3z M329.4 596.4 h3.6 v2 h-3.6z M334 596.4 h2.6 v2 h-2.6z" stroke="none"/>
<path d="M339.7 594.6 L339.7 604.8 L347.3 604.8 L347.3 594.6 M341.8 596.6 L341.8 603 L345.2 603 L345.2 596.6" fill="none" stroke-width="1.1"/>
<path fill="none" d="M321.6 600.8 L338 600.8 M348.6 598.9 L348.6 604"/>
</g>
<g stroke="#222" stroke-width="0.85" fill="none" stroke-linejoin="round" stroke-linecap="round">
<path fill="#fff" d="M305.9 624.2 L360.8 624.2 L359.1 668.1 L349 669 L314.4 668.1 L313.5 647.8 Z"/>
<path d="M316 627 L358.3 627 M316.4 627 L316.4 646 L320 649.5 L325 649.5 M358.3 627 L357.8 649 L352 649.6"/>
<path fill="#fff" d="M325.3 625.9 L341.4 625.9 L341.4 636.9 L325.3 636.9 Z"/>
<path fill="#fff" d="M341.4 626.7 L346 629.4 L346.4 641.2 L341.4 636.9 Z"/>
<path fill="#fff" d="M325.3 636.9 L341.4 636.9 L346.4 641.2 L347.3 647.8 L325.3 647.8 Z"/>
<path d="M318 630 L318 646 L322 650.6 L339.6 651 M325.3 647.8 L322 650.6 M315 636 L316.4 635.4 L316.4 640.6 L315 641.2 Z M347.3 643.6 L352 643.6 L352 649.6 L347.3 649.6 M352 641 L354.6 640.4 L355.6 645.6 L353.6 649.4 M347.3 647.8 L340 651"/>
<path d="M314 656.3 L340.6 656.3 L342.3 653.8 L358.6 652.6 M341.4 653.8 L342 664 L344.6 665.8 L357.6 664.4 M344 656 L357.8 655 M344 656 L344.4 663 M316.4 656.4 L316.4 667.6 M314.4 665.8 L341 666.4 L343 668.4 M348 666 L352 665.4 L356 663"/>
</g>
<path class="pw" d="M576.8 571 L577 568.8 L580.8 568.8 L581 571 M602.1 571 L602.3 568.8 L606.2 568.8 L606.4 571" style="stroke-width:0.8"/>
<rect class="pw" x="575.6" y="571" width="32.5" height="60" style="stroke-width:1.1"/>
<path class="p" d="M577.7 572.7 L606.6 572.7 L606.6 629 L577.7 629 Z M576.7 572 L576.7 630" style="stroke-width:0.8"/>
<rect class="pt" x="579.3" y="592.1" width="12.7" height="11" style="stroke:#555"/>
<path class="p" d="M588.6 611.4 L592.6 611.4 L592.6 617.4 M577.7 627 L606.6 627" style="stroke-width:0.8;stroke:#444"/>
<path class="k" d="M577.8 607.4 L584.6 607.4 L584.6 609.4 L587.6 609.4 L587.6 613 L588.6 613 L588.6 623.2 L584 623.2 L584 620 L582 620 L582 623.4 L577.8 623.4 Z"/>
<path fill="#fff" d="M579.4 609.2 h2.4 v2.6 h-2.4z M583 610.6 h2.6 v2 h-2.6z M579.4 613.8 h1.6 v3.4 h-1.6z M584.6 614.6 h2.6 v3.6 h-2.6z M579.6 619 h1.4 v2.6 h-1.4z M585 620 h2.4 v2 h-2.4z M582 613.6 h1.4 v5 h-1.4z"/>
<path class="k" d="M591.8 617.2 L598.6 617.2 L598.6 621.8 L591.8 621.8 Z M601.4 621.8 L603.6 618.2 L606 621.8 Z"/>
<path fill="#fff" d="M593 618.6 h1.6 v2 h-1.6z M595.6 618.6 h1.8 v2 h-1.8z"/>
<path class="p" d="M600.6 603.8 L605.6 603.8 M600.6 603.8 L600.6 611.6 L606.6 611.6 M602.6 606 L606.4 606 M602.6 609 L607 609 M603.6 606 L603.6 609" style="stroke-width:1.4"/>
<path class="ptw" d="M597.4 604.6 L600.6 604.6 L600.6 607.4 L597.4 607.4 Z" style="stroke:#666"/>
<path class="ld2" d="M543 632.7 L575.6 620.9"/>
<g transform="translate(533.5 635.8) rotate(-17.7)"><path class="cn" d="M7.9 -9.0 L-7.9 -9.0 L-7.9 -4.6 L-14.7 -4.6 L-14.7 4.6 L-7.9 4.6 L-7.9 9.0 L7.9 9.0 Z"/><path class="cn2" d="M7.9 -6.2 A6.3 6.2 0 0 0 7.9 6.2"/></g>
<g stroke="#666" stroke-width="0.8" fill="#fff" stroke-linejoin="round">
<path d="M590.3 661.4 L590.3 639.6 Q590.3 637.8 593.2 637.8 Q596.2 637.8 596.2 639.6 L596.2 661.4 Z"/>
<path fill="none" d="M590.3 640.6 L596.2 640.6 M590.3 642.8 L596.2 642.8 M590.3 644.9 L596.2 644.9 M590.3 647.0 L596.2 647.0 M590.3 649.2 L596.2 649.2 M590.3 651.3 L596.2 651.3 M590.3 653.5 L596.2 653.5 M590.3 655.6 L596.2 655.6 M590.3 657.8 L596.2 657.8 M590.3 659.9 L596.2 659.9 "/>
<path d="M587.4 661.4 L599.2 661.4 Q599.8 661.4 599.6 662.4 L599 664 L587.6 664 L587 662.4 Q586.8 661.4 587.4 661.4 Z"/>
<path d="M588.6 664 L597.9 664 Q597.9 666.6 593.2 666.6 Q588.6 666.6 588.6 664 Z"/>
</g>
<path class="pw" d="M690.5 555.4 L697.4 552.2 L734.9 552.2 L741.8 558.7 L746.7 584.4 L746.1 595.2 L741.8 597.8 L698.4 595.8 L695.4 592.3 Z" style="stroke-width:1"/>
<path class="p" d="M691.5 556.2 L729 556.8 L733.9 589.3 L697.4 591.7 Z" style="stroke-width:1.2"/>
<path class="p" d="M693.6 558.2 L727.2 558.8 L731.6 587.4 L699 589.6 Z M729 556.8 L734.9 552.2 M733.9 589.3 L741.8 597.8 M697.4 591.7 L698.4 595.8 M731.4 556.4 L737 591 M697 593.6 L739.4 595.4 M741.8 558.7 L744 586 L743.6 596.6" style="stroke-width:0.9"/>
<path class="p" d="M738.6 561 L740 572 M740.8 564 L742.4 577 M739.4 575 L740.4 581 M742 580 L745.6 579.6 L746 583.8 L742.4 584 Z M741 586 L741.6 592" style="stroke-width:1.2"/>
<path class="k" d="M714 571.2 L715.8 571.2 L715.8 572.9 L714 572.9Z"/>
<path class="p" d="M699.6 553.6 L700.4 553.6 M704 553.4 L705 553.4 M722 553.4 L723 553.4 M727.6 553.6 L728.6 553.6 M704 559.4 L705 559.4 M716 559.4 L717 559.4 M727 559.6 L727.8 559.6 M708 585 L708.6 586.4 M730 587 L730.8 587 M729.4 593.4 L730.4 593.4 M709 593 L710 593 M701 592.4 L702 592.4 M695.6 559.4 L696.4 559.4" style="stroke-width:1.3"/>
<path class="ld" d="M747.1 583 L774.6 583"/>
<g transform="translate(783.7 583.4) rotate(180)"><path class="cn" d="M7.9 -9.0 L-7.9 -9.0 L-7.9 -4.6 L-14.7 -4.6 L-14.7 4.6 L-7.9 4.6 L-7.9 9.0 L7.9 9.0 Z"/><path class="cn2" d="M7.9 -6.2 A6.3 6.2 0 0 0 7.9 6.2"/></g>
<g stroke="#222" stroke-width="0.9" fill="none" stroke-linejoin="round" stroke-linecap="round">
<path fill="#fff" d="M701.8 607.1 L702.3 613 L706.7 641.6 L731 640.6 L737.9 629.8 L735.9 611 L727.6 610.6 L727 607.1 Z"/>
<path fill="#fff" stroke-width="1.1" d="M701.4 602.7 L727 602.7 L727 607.1 L701.8 607.1 Z"/>
<path d="M703.4 604 L725.4 604 M704 604.9 L706 604.9 M722.4 604.9 L724.4 604.9" stroke-width="1.2"/>
<path d="M706.6 612.4 Q708 612.4 710.6 609.6 Q712 608.4 714 608.4 L726.6 608.4 M706.4 612.6 L706.8 614.4 Q709 614.6 711.8 611.6 Q713 610.6 715 610.6 L727.4 610.6"/>
<path d="M713.2 622.8 L720 619.6 L729 622.8 L730.4 631.6 L724 636 L715 632.8 Z" stroke-linejoin="round"/>
<path d="M713.2 622.8 Q712.2 628 715 632.8 M720 619.6 Q725 619 729 622.8 M730.4 631.6 Q728.6 635.8 724 636" stroke-width="0.7"/>
<path stroke-dasharray="1.6 1" d="M727.6 610.6 L735.9 611 L737.9 629.8"/>
<path fill="#fff" stroke-width="1.1" d="M706.7 641.6 L731 640.6 L740.8 643.6 Q742 645 741.4 646.5 L708.3 648.5 Z"/>
<path d="M708.6 643.4 L731 642.4 L736 644.6 M710 643.6 L711 641.6 M728 642.6 L729 640.8 M731 640.6 L731.4 638.4 L737 630.4" stroke-width="1.1"/>
</g>
<g stroke="#333" stroke-width="0.85" fill="#fff" stroke-linejoin="round">
<ellipse cx="711.3" cy="667" rx="6.8" ry="5.4"/>
<ellipse cx="711.3" cy="667.4" rx="5" ry="3.6"/>
<path d="M708.2 666.4 L708.4 658.6 Q708.6 656.2 711.3 656.2 Q714 656.2 714.2 658.6 L714.4 666.4 Q711.3 668.6 708.2 666.4 Z"/>
<path fill="none" d="M708.4 660 Q711.3 661.8 714.2 660 M708.3 663 Q711.3 664.8 714.3 663"/>
</g>
</g>
<g id="parts_right">
<path class="ld" d="M754.4 425.7 L745 457.7"/>
<path class="pw" d="M733.6 420 L731.9 429 L728 438 L729 443.1 L731 443 L730.6 439 L740.3 424.5 Z" style="stroke-width:1.1"/>
<path class="p" d="M737.6 422.6 L732.6 432.6 L730 437.4" style="stroke-width:0.9"/>
<path class="k" d="M728.6 438.6 L731 438.2 L731.4 441 L729 441.4Z"/>
<path class="pw" d="M792.7 417.8 L798.3 420 L804 416.7 L805.1 418.9 L800.6 423.4 L792.7 422.3 Z" style="stroke-width:1.1"/>
<path class="p" d="M802.6 417.6 L803.6 420.2 M793 420 L798.6 421.8 L803 419" style="stroke-width:1.3"/>
<path class="pw" d="M726 405.6 L731.9 405.6 L731.9 410 L726 410 Q725.2 407.8 726 405.6 Z" style="stroke-width:1"/>
<circle class="p" cx="728.6" cy="407.8" r="1.1" style="stroke-width:0.9"/>
<path class="pw" d="M731.9 400.9 L738.6 393.6 L771.3 389.6 L778.1 397 L779.8 400.3 L792.7 400.3 L792.7 424.5 L745.4 425.1 L744.8 420.6 L731.9 420 Z" style="stroke-width:1.2"/>
<path class="p" d="M739.8 386.3 L739.8 393.4 M746.5 386 L746.5 392.6 M753.3 386.4 L753.3 391.8 M760 386 L760 391 M738.4 391 L741.2 391 M745 390.4 L748 390.4 M751.8 389.8 L754.8 389.8 M758.6 389 L761.4 389" style="stroke-width:1.4"/>
<circle class="k" cx="753.9" cy="386.2" r="1.6"/>
<path class="k" d="M741.4 394 L743.4 396.4 L745.4 393.6Z M748 393.4 L750 395.8 L752 393 Z M754.8 392.6 L756.8 395 L758.6 392.2Z"/>
<path class="p" d="M738.6 393.6 L741 396.6 L772.6 392.6 M734 399.6 L736.6 397.2 L757 395.6 M761 391.2 L771 390 M762 393.6 L765 393.2" style="stroke-width:1"/>
<path class="p" d="M731.9 400.9 L752.2 400.4 L752.2 407.7 L731.9 407.7 M733.4 402.6 L750.8 402.2 M733.4 405.6 L750.8 405.4" style="stroke-width:1.2"/>
<path class="p" d="M752.2 400.4 L771.4 389.8 M754 404.2 L774.6 392.4 M757.6 406 L776.4 395.2 M754 404.2 L758.6 407.6 L761 409 M755.6 399.6 L757.8 402" style="stroke-width:1.4"/>
<path class="p" d="M756.6 403.6 L773.4 393.6 M760 405.6 L762.6 408.6 M763.6 402.6 L765.6 405" style="stroke-width:0.9"/>
<circle class="pw" cx="774.1" cy="403.2" r="2.3" style="stroke-width:0.9"/>
<circle class="p" cx="774.1" cy="403.2" r="1" style="stroke-width:0.7"/>
<path class="p" d="M784 401.8 L787.6 401.8" style="stroke-width:0.8"/>
<path class="k" d="M733 409.6 L792.7 409.4 L792.7 413.6 L733 413.6 Z"/>
<path fill="#fff" d="M734.6 410.4 h4 v2.4 h-4z M741.6 410.2 h2.6 v1.4 h-2.6z M763.4 410.2 h6 v2.8 h-6z M766 409.4 h1.6 v1 h-1.6z M779.6 410 h3 v2 h-3z M786.6 410 h3.4 v2 h-3.4z M772.4 410.2 h3.4 v1.8 h-3.4z M757 410 h3 v1.6 h-3z"/>
<path class="p" d="M733.4 416.4 L745 416.4 M737 413.6 L737 420 M741.6 413.6 L741.6 420.4" style="stroke-width:1.2"/>
<path class="k" d="M745.6 412.4 L752.0 412.4 L752.0 425 L745.6 425 Z"/><path fill="#fff" d="M746.7 418.6 Q746.5 414.4 748.8 414.4 Q751.1 414.4 751.1 418.6 L750.9 420 L746.7 420 Z M746.7 421.8 L750.9 421.8 L750.9 424 L746.7 424 Z"/><path class="p" d="M747.5999999999999 418.4 Q748.8 416.6 750.0 418.4" style="stroke-width:0.9"/>
<path class="k" d="M753.2 412.4 L759.4 412.4 L759.4 425 L753.2 425 Z"/><path fill="#fff" d="M754.3000000000001 418.6 Q754.1 414.4 756.3 414.4 Q758.5 414.4 758.5 418.6 L758.3 420 L754.3000000000001 420 Z M754.3000000000001 421.8 L758.3 421.8 L758.3 424 L754.3000000000001 424 Z"/><path class="p" d="M755.0999999999999 418.4 Q756.3 416.6 757.5 418.4" style="stroke-width:0.9"/>
<path class="k" d="M771.4 412.4 L776.8 412.4 L776.8 425 L771.4 425 Z"/><path fill="#fff" d="M772.5 418.6 Q772.3 414.4 774.0999999999999 414.4 Q775.9 414.4 775.9 418.6 L775.6999999999999 420 L772.5 420 Z M772.5 421.8 L775.6999999999999 421.8 L775.6999999999999 424 L772.5 424 Z"/><path class="p" d="M772.8999999999999 418.4 Q774.0999999999999 416.6 775.3 418.4" style="stroke-width:0.9"/>
<path class="k" d="M778.2 412.4 L783.8 412.4 L783.8 425 L778.2 425 Z"/><path fill="#fff" d="M779.3000000000001 418.6 Q779.1 414.4 781.0 414.4 Q782.9 414.4 782.9 418.6 L782.6999999999999 420 L779.3000000000001 420 Z M779.3000000000001 421.8 L782.6999999999999 421.8 L782.6999999999999 424 L779.3000000000001 424 Z"/><path class="p" d="M779.8 418.4 Q781.0 416.6 782.2 418.4" style="stroke-width:0.9"/>
<path class="k" d="M785.0 412.4 L791.6 412.4 L791.6 425 L785.0 425 Z"/><path fill="#fff" d="M786.1 418.6 Q785.9 414.4 788.3 414.4 Q790.7 414.4 790.7 418.6 L790.5 420 L786.1 420 Z M786.1 421.8 L790.5 421.8 L790.5 424 L786.1 424 Z"/><path class="p" d="M787.0999999999999 418.4 Q788.3 416.6 789.5 418.4" style="stroke-width:0.9"/>
<path class="k" d="M760.4 413.6 L770.4 413.6 L770.4 424.6 Q765.4 427.4 760.4 424.6 Z"/>
<path fill="#fff" d="M761.6 415.4 h7.6 v2.6 h-7.6z M761.6 420 h7.6 v1.4 h-7.6z M763 423 h1.6 v1.4 h-1.6z M766.4 423 h1.6 v1.4 h-1.6z"/>
<g transform="translate(742.8 467.6) rotate(-73.7)"><path class="cn" d="M7.5 -8.75 L-7.5 -8.75 L-7.5 -4.6 L-14.3 -4.6 L-14.3 4.6 L-7.5 4.6 L-7.5 8.75 L7.5 8.75 Z"/><path class="cn2" d="M7.5 -5.95 A6.3 5.95 0 0 0 7.5 5.95"/></g>
<path class="pw" d="M775.3 505.6 L786.7 505.2 L786.7 530.1 L775.3 529.7 Z" style="stroke-width:0.9;stroke:#333"/>
<path class="p" d="M779 518 L786.7 518 M779 521 L786.7 521 M777 524.6 L786.7 524.6 M779 527.4 L786.7 527.4 M779 516 L779 529.6 M780 516 L779 522" style="stroke-width:0.8;stroke:#777"/>
<path class="k" d="M779 505.4 L781.6 505.2 L782.2 506.6 L779.4 506.8Z M781.4 509.2 L783.8 509.2 L783.8 510.8 L781.4 510.8Z M782.4 513.2 L785 513.2 L785 515 L782.4 515Z M775.2 511.6 L776.8 511.6 L776.8 512.8 L775.2 512.8Z"/>
<path class="p" d="M775.3 524 L778.6 524 L778.6 529.6" style="stroke-width:0.9"/>
<path class="pw" d="M736.4 522.5 L736.4 532.2 L748.6 533.1 L748.6 536 L761.7 536 L761.7 533.1 L774 531.8 L774 522.9 Z" style="stroke-width:1"/>
<path class="p" d="M748.8 522.9 L748.8 535.4 M761.4 522.9 L761.4 535.4" style="stroke-width:1.8"/>
<path class="p" d="M737.2 523 L737.2 532 M748.6 533.3 L761.7 533.3 M772.8 523 L772.8 531.6" style="stroke-width:1.2"/>
<path class="k" d="M749.6 534.2 L761 534.2 L761 536.2 L749.6 536.2Z M773 524.6 L775.2 526.4 L775.2 531 L773 531.6Z"/>
<path fill="#fff" d="M750.6 533.6 h3 v0.9 h-3z M756.6 533.6 h3 v0.9 h-3z"/>
<path class="pw" d="M735.6 518.7 L775.3 519.1 L775.3 522.9 L735.6 522.5 Z" style="stroke-width:1.2"/>
<path class="pw" d="M736.4 500.6 L773.2 501 Q774.8 501 774.8 502.6 L774.8 519.1 L735.6 518.7 L734.8 502.2 Q734.8 500.6 736.4 500.6 Z" style="stroke-width:1.2"/>
<path class="p" d="M735.6 518.9 L775.3 519.3" style="stroke-width:1.8"/>
<path class="p" d="M744.8 505.2 L764.7 505.6 L766 510.3 L764.7 514.9 L745.3 514.1 Z" style="stroke-width:1.4"/>
<path class="pw" d="M821.3 388 L827.5 388 L827.5 393.6 L821.3 393.6 Z" style="stroke-width:1"/>
<path class="pw" d="M827.5 388.6 L836.5 388.6 L836.5 393.6 L827.5 393.6 Z" style="stroke-width:0.9"/>
<path class="pw" d="M823 393.6 L836.5 393.6 L836.5 406.6 L837.2 407 L837 412.6 L822.4 412.6 L822.4 406.4 L823 406 Z" style="stroke-width:1"/>
<path class="p" d="M821.6 393.8 L836.4 393.8 M823.4 396.4 L827.6 396.4 M827.6 396.4 L827.6 404.6 M823.6 404.6 L831 404.6 M824 406.8 L826 409.6 L836 409.6 M822.6 411.6 L836.8 411.6 M831 404.6 L831 408.8 M834.6 406 L836.8 407.6" style="stroke-width:1.5"/>
<path class="p" d="M829.6 394 L829.6 404 M834.6 394 L834.6 408" style="stroke-width:0.9"/>
<circle class="pw" cx="824.9" cy="400" r="1.4" style="stroke-width:0.9"/>
<path class="k" d="M825.4 404.6 L828.6 404.6 L828.6 408.4 L826.6 408.6 Z"/>
<path class="pw" d="M865.2 385.8 L874.2 386.9 L879.3 392.5 L879.3 408.3 L875.3 412.8 L865.2 414.5 Z" style="stroke-width:0.9;stroke:#444"/>
<path class="p" d="M874.2 386.9 Q877.6 388.6 878.2 392.8 M875.3 412.8 Q878 411 878.4 408" style="stroke-width:0.8;stroke:#666"/>
<path class="k" d="M862.6 383 L865.3 383 L865.3 418.4 L862.6 418.4 Z"/>
<path class="p" d="M865.2 387.2 L872.8 387.6 M865.2 391.4 L872.4 391.4 M872.6 387.6 L872.6 391.4 M865.2 409 L872.8 408.8 M865.2 413.2 L872.6 412.6 M872.8 408.8 L872.8 412.6" style="stroke-width:1.6"/>
<path class="p" d="M859 383.4 L865 383.4 M859.2 383.4 L859.2 385.6 L862.6 385.6 M857.8 390.4 L862.6 390.4 M857.8 394.4 L862.6 394.4 M858 390.4 L858 394.4 M859.6 390.6 L859.6 394.2 M861 390.6 L861 394.2 M861 402.8 L862.6 402.8 M859 412.8 L862.6 412.8 M859 417.8 L865 417.8 M859.2 412.8 L859.2 418 M860.6 415.2 L862.6 415.2 M860.6 387.8 L862.6 387.8" style="stroke-width:1.5"/>
<path class="p" d="M866.6 388.6 L866.6 391 M868.6 388.6 L868.6 391 M866.6 409.8 L866.6 412.4 M868.6 409.8 L868.6 412.4" style="stroke-width:0.8;stroke:#555"/>
<g stroke="#5a5a5a" stroke-width="0.9" fill="#fff" stroke-linejoin="round">
<path d="M848.8 428 L864.4 428 L864.4 447.6 L862.6 450.3 L861.6 450.3 L860 447.6 L860 439 L853.2 439 L853.2 447.6 L851.6 450.3 L850.6 450.3 L848.8 447.6 Z"/>
<path fill="none" d="M848.8 429.6 L864.4 429.6 M848.8 439 L853.2 439 M860 439 L864.4 439 M850.2 439 L850.2 448 M863 439 L863 448" />
</g>
<path class="pw" d="M821.8 457 L826.2 457 L826.2 460.6 L824.4 460.6 L824.4 467 L821.8 467 Z" style="stroke-width:0.9"/>
<path class="pw" d="M826.2 457 L837.4 456.8 L838.9 458.6 L838.9 466 L836.4 466.4 L836.4 474.8 L825 475.1 L824.4 470 L826.6 467 Z" style="stroke-width:1"/>
<path class="p" d="M826.4 458 L837 457.8 M826.4 460.6 L835 460.6 M837.6 459 L837.6 465.6 M826.6 463 L826.6 467 M826.6 465 L832 465 M829.4 461 L829.4 465 M832 465 L832 468.6 M827 468.6 L835.6 468.6 M835.6 467 L835.6 474 M825.6 472 L831 472 M831 469 L831 474.6 M827.6 474.2 L836 474" style="stroke-width:1.7"/>
<path class="k" d="M827.4 461.4 L829.4 461.4 L829.4 463.4 L827.4 463.4Z M832.6 469.4 L835 469.4 L835 473.4 L832.6 473.4Z M826 469 L828.4 469 L828.4 471.4 L826 471.4 Z"/>
<path class="pw" d="M819.6 485.6 L823.6 485.6 L823.6 495.6 L819.6 495.6 Z" style="stroke-width:0.9"/>
<path class="p" d="M821 485.6 L821 495.6" style="stroke-width:0.8"/>
<path class="pw" d="M824.6 482 L826.6 478.6 L833.6 478.4 L835.6 481 L837.2 484.4 L837.2 494.4 L834 496.6 L824.4 496.7 L823.6 495 Z" style="stroke-width:1"/>
<path class="p" d="M826.4 479.6 L834 479.4 M825 482.4 L836 482.2 M825.6 482.4 L825.6 496 M827.8 484.4 L835 484.4 M827.8 484.4 L827.8 493.6 M835 484.4 L835 493 M827.8 493.4 L835.4 493.2 M824.6 495.8 L834 495.6 M836.4 485 L836.4 494" style="stroke-width:1.7"/>
<path class="p" d="M829.4 486 L829.4 492 M831 486 L833.6 486 L833.6 491.6 L831 491.6Z" style="stroke-width:0.9"/>
<path class="k" d="M823.8 488 L825.8 488 L825.8 494 L823.8 494Z"/>
<path class="ld" d="M846.4 493.4 L837.1 526.1"/>
<path class="pw" d="M853 463.6 L862 463.8 Q868.6 465 868.6 471 L868.6 489.6 Q868.6 495 862.4 496.4 L853 497.6 Z" style="stroke-width:1;stroke:#222"/>
<path class="p" d="M853 463.4 L860 463.6 Q861.6 462.6 864 463.6 M853 497.4 L859.6 496.8 Q862 497.6 864.4 495.6" style="stroke-width:1.7"/>
<path class="p" d="M853 469.4 L865.4 469.6 L865.4 489.6 L853 489.8 M864.4 470 L864.4 489" style="stroke-width:1.5"/>
<path class="p" d="M866.8 470 L866.8 490 M853 491.6 L866 491.4 M853 467.6 L865 467.8" style="stroke-width:0.8;stroke:#444"/>
<path class="k" d="M850.4 460.3 L851.8 460.3 L853.2 462.4 L853.2 498.6 L851.8 500.5 L850 500.5 L850.6 497 L850.6 464 Z"/>
<path class="p" d="M845 467.6 L850.6 467.6 M846.4 470.6 L850.6 470.6 M846.4 467.8 L846.4 470.4 M847 472.8 L850.6 472.8 M848.6 476.4 L850.6 476.4 M845 486.6 L850.6 486.6 M845.2 486.6 L845.2 489.6 M846 490 L850.6 490 M846.6 492.6 L850.6 493.4 M848 495.6 L850.6 496 M848.6 482 L850.6 482 M848.4 464 L850.6 464.8" style="stroke-width:1.6"/>
<path class="p" d="M847.4 468 L847.4 470.4 M848.8 468 L848.8 470.4 M847 487 L847 489.8 M848.6 487 L848.6 489.8" style="stroke-width:0.9"/>
<g transform="translate(833.1 536.6) rotate(-73.6)"><path class="cn" d="M7.75 -9.0 L-7.75 -9.0 L-7.75 -4.6 L-14.55 -4.6 L-14.55 4.6 L-7.75 4.6 L-7.75 9.0 L7.75 9.0 Z"/><path class="cn2" d="M7.75 -6.2 A6.3 6.2 0 0 0 7.75 6.2"/></g>
</g>
<g id="misc">
<!-- bottom rule -->
<line x1="94" y1="683.2" x2="956" y2="683.2" stroke="#333" stroke-width="1.6"/>
<!-- balloons 185 -->
<circle cx="920.6" cy="408" r="18.7" class="ld" style="fill:#fff"/>
<circle cx="920.6" cy="488.8" r="18.7" class="ld" style="fill:#fff"/>
<path class="ld" d="M828.6 388.6 L843.2 374.5 L919 374.5 L919 389.5"/>
<path class="ld" d="M879.3 408.5 L902 408.5"/>
<path class="ld" d="M839.2 457.4 L842.3 454.4 L919 454.4 L919 470.2"/>
<path class="ld" d="M836 497.5 L868.5 517.7 L919 517.7 L919 507.4"/>
<path class="ld" d="M869 488.5 L902 488.5"/>
<!-- arrows -->
<path class="k" d="M443.4 219.7 L447.4 217.3 Q455.6 231 460.7 249.1 L463.3 248.2 L463.4 259.8 L456.2 251.2 L458.8 250.1 Q452.8 235 443.4 219.7Z"/>
<path class="k" d="M621.2 222.7 L624.9 225.1 Q614.6 241.5 610.2 255.3 L612.5 256.4 L605.2 264.8 L604.6 253.1 L608.1 254.3 Q612.2 239.4 621.2 222.7Z"/>
<path class="k" d="M599.1 544.8 L603.7 548.4 Q621.7 524 640.7 505.6 Q655 493.6 669.3 484 L671.4 485.2 L677.3 476.1 L666.6 478.5 L668 482.6 Q651 493 634.4 506.8 Q615.3 524 599.1 544.8Z"/>
<path class="k" d="M875.9 444.5 C881.8 448.6 883.2 456 878 461.6 L877.6 464.6 L869.5 465.1 L872 458.4 L873.8 460 C877.4 456.4 877.6 450.6 875.9 444.5Z"/>
</g>
<g id="labels">
<text x="462" y="135.5">300</text>
<text x="478" y="177">290</text>
<text x="334.5" y="241.5">900</text>
<text x="672" y="217">280</text>
<text x="114" y="276">940</text>
<text x="181" y="306">10</text>
<text x="105.5" y="316">15</text>
<text x="99" y="362">20</text>
<text x="145" y="384">25</text>
<text x="98" y="417">37</text>
<text x="141.5" y="419">30</text>
<text x="195" y="420">925</text>
<text x="224" y="465.5">35</text>
<text x="124" y="494.5">75</text>
<text x="214" y="499">80</text>
<text x="183.5" y="534">40</text>
<text x="224" y="557.5">45</text>
<text x="126" y="591.5">930</text>
<text x="242" y="651">90</text>
<text x="362.5" y="596">150</text>
<text x="364" y="655">160</text>
<text x="616" y="601">50</text>
<text x="521" y="663.5">905</text>
<text x="606" y="655.5">70</text>
<text x="674.5" y="671">110</text>
<text x="661.5" y="583">100</text>
<text x="742.5" y="635">130</text>
<text x="776" y="608">920</text>
<text x="845" y="547">910</text>
<text x="761.5" y="494.5">95</text>
<text x="701" y="474">915</text>
<text x="747" y="383">210</text>
<text x="800.5" y="385">197</text>
<text x="879" y="395">190</text>
<text x="907.5" y="414">185</text>
<text x="870" y="438">205</text>
<text x="810.5" y="449.5">195</text>
<text x="871" y="482">190</text>
<text x="907.5" y="495">185</text>
<text x="808" y="513">200</text>
</g>
</svg>
</body>
</html>
